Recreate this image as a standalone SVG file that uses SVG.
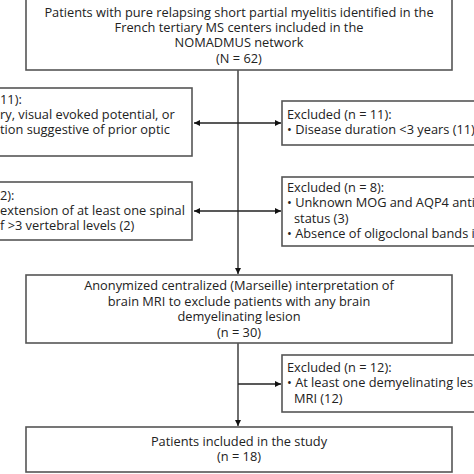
<svg xmlns="http://www.w3.org/2000/svg" width="474" height="474" viewBox="0 0 474 474">
<defs>
<style>
.box{fill:#fff;stroke:#555;stroke-width:1.6}
.t{font-family:"Open Sans","Noto Sans",sans-serif;font-size:12.8px;fill:#222}
.c{text-anchor:middle}
.ln{stroke:#222;stroke-width:1.3;fill:none}
</style>
<marker id="ah" markerWidth="8" markerHeight="8" refX="6" refY="3.5" orient="auto-start-reverse" markerUnits="userSpaceOnUse">
<path d="M0,0.5 L6,3.5 L0,6.5 z" fill="#111"/>
</marker>
</defs>
<rect width="474" height="474" fill="#fff"/>
<g id="connectors">
<line class="ln" x1="238" y1="70" x2="238" y2="274" marker-end="url(#ah)"/>
<line class="ln" x1="194" y1="123" x2="281" y2="123" marker-start="url(#ah)" marker-end="url(#ah)"/>
<line class="ln" x1="194" y1="211" x2="281" y2="211" marker-start="url(#ah)" marker-end="url(#ah)"/>
<line class="ln" x1="238" y1="343" x2="238" y2="426" marker-end="url(#ah)"/>
<line class="ln" x1="238" y1="384" x2="281" y2="384" marker-end="url(#ah)"/>
</g>
<g id="n1">
<rect class="box" x="26" y="-1" width="426" height="71"/>
<text class="t c" x="239" y="17">Patients with pure relapsing short partial myelitis identified in the</text>
<text class="t c" x="239" y="32">French tertiary MS centers included in the</text>
<text class="t c" x="239" y="47">NOMADMUS network</text>
<text class="t c" x="239" y="63">(N = 62)</text>
</g>
<g id="n2">
<rect class="box" x="-10" y="88" width="202" height="68"/>
<text class="t" x="0" y="104">11):</text>
<text class="t" x="0" y="119">ry, visual evoked potential, or</text>
<text class="t" x="0" y="134">tion suggestive of prior optic</text>
</g>
<g id="n3">
<rect class="box" x="282" y="101" width="200" height="44"/>
<text class="t" x="287" y="119">Excluded (n = 11):</text>
<text class="t" x="287" y="134">• Disease duration &lt;3 years (11)</text>
</g>
<g id="n4">
<rect class="box" x="-10" y="182" width="202" height="58"/>
<text class="t" x="0" y="200">2):</text>
<text class="t" x="0" y="215">extension of at least one spinal</text>
<text class="t" x="0" y="230">f &gt;3 vertebral levels (2)</text>
</g>
<g id="n5">
<rect class="box" x="282" y="177" width="200" height="69"/>
<text class="t" x="287" y="192">Excluded (n = 8):</text>
<text class="t" x="287" y="207">• Unknown MOG and AQP4 anti</text>
<text class="t" x="294" y="223">status (3)</text>
<text class="t" x="287" y="238">• Absence of oligoclonal bands i</text>
</g>
<g id="n6">
<rect class="box" x="26" y="275" width="426" height="68"/>
<text class="t c" x="239" y="290">Anonymized centralized (Marseille) interpretation of</text>
<text class="t c" x="239" y="306">brain MRI to exclude patients with any brain</text>
<text class="t c" x="239" y="321">demyelinating lesion</text>
<text class="t c" x="239" y="337">(n = 30)</text>
</g>
<g id="n7">
<rect class="box" x="282" y="355" width="200" height="57"/>
<text class="t" x="287" y="372">Excluded (n = 12):</text>
<text class="t" x="287" y="387">• At least one demyelinating les</text>
<text class="t" x="294" y="403">MRI (12)</text>
</g>
<g id="n8">
<rect class="box" x="26" y="427" width="426" height="45"/>
<text class="t c" x="239" y="446">Patients included in the study</text>
<text class="t c" x="239" y="461">(n = 18)</text>
</g>
</svg>
